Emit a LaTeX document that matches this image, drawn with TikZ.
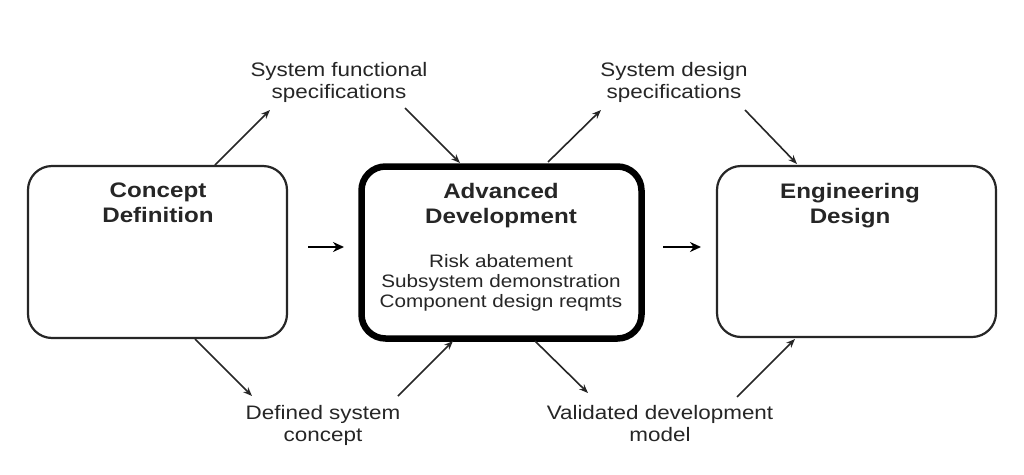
\documentclass[tikz,border=0pt]{standalone}
\usepackage{fontspec}
\setmainfont{Liberation Sans}
\usetikzlibrary{arrows.meta}
\begin{document}
\begin{tikzpicture}[x=1pt,y=-1pt,
 box/.style={draw=black!85, line width=2.2pt, rounded corners=24pt, inner sep=0pt},
 boxthick/.style={box, draw=black, line width=6.5pt},
 ttl/.style={font=\fontsize{21}{25}\selectfont\bfseries, align=center, xscale=1.15, inner sep=0pt, anchor=north, text=black!85},
 sub/.style={font=\fontsize{18}{20}\selectfont, align=center, xscale=1.15, inner sep=0pt, anchor=north, text=black!85},
 lbl/.style={font=\fontsize{19.5}{22.5}\selectfont, align=center, xscale=1.15, inner sep=0pt, anchor=north, text=black!85},
 arr/.style={-{Stealth[length=9pt,width=7pt]}, line width=1.6pt, draw=black!85},
 harr/.style={-{Stealth[length=11pt,width=10pt]}, line width=2.8pt, draw=black}]
\useasboundingbox[fill=white] (0,0) rectangle (1024,474);

% boxes
\node[box, minimum width=259pt, minimum height=172pt] (cd) at (157.5,252) {};
\node[boxthick, minimum width=280pt, minimum height=172pt] (ad) at (501.5,252.5) {};
\node[box, minimum width=279pt, minimum height=171pt] (ed) at (856.5,251.5) {};

% titles
\node[ttl] (cdt) at (158,183) {Concept\\Definition};
\node[ttl] (adt) at (501,183) {Advanced\\Development};
\node[ttl] (edt) at (850,183) {Engineering\\Design};
\node[sub] (ads) at (501,254) {Risk abatement\\Subsystem demonstration\\Component design reqmts};

% labels
\node[lbl] (sfs) at (339,62) {System functional\\specifications};
\node[lbl] (sds) at (674,62) {System design\\specifications};
\node[lbl] (dsc) at (323,405) {Defined system\\concept};
\node[lbl] (vdm) at (660,405) {Validated development\\model};

% connector end points
\coordinate (p1a) at (215,165); \coordinate (p1b) at (270,110);
\coordinate (p2a) at (405,108); \coordinate (p2b) at (460,163);
\coordinate (p3a) at (548,162); \coordinate (p3b) at (601,110);
\coordinate (p4a) at (745,110); \coordinate (p4b) at (797,164);
\coordinate (q1a) at (195,339); \coordinate (q1b) at (252,396);
\coordinate (q2a) at (398,396); \coordinate (q2b) at (453,341);
\coordinate (q3a) at (535,341); \coordinate (q3b) at (588,393);
\coordinate (q4a) at (737,397); \coordinate (q4b) at (795,339);

\draw[arr] (p1a) -- (p1b);
\draw[arr] (p2a) -- (p2b);
\draw[arr] (p3a) -- (p3b);
\draw[arr] (p4a) -- (p4b);
\draw[arr] (q1a) -- (q1b);
\draw[arr] (q2a) -- (q2b);
\draw[arr] (q3a) -- (q3b);
\draw[arr] (q4a) -- (q4b);

% horizontal arrows
\coordinate (h1a) at (308,247); \coordinate (h1b) at (344,247);
\coordinate (h2a) at (663,247); \coordinate (h2b) at (701,247);
\draw[harr] (h1a) -- (h1b);
\draw[harr] (h2a) -- (h2b);
\end{tikzpicture}
\end{document}
